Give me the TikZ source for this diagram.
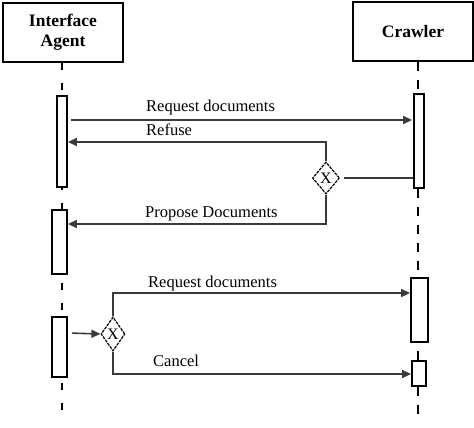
\documentclass[tikz,border=0pt]{standalone}
\usepackage{fontspec}
\setmainfont{Liberation Serif}
\usetikzlibrary{shapes.geometric,arrows.meta}
\definecolor{lnc}{HTML}{3A3A3A}
\tikzset{
  head/.style={draw=black, line width=2pt, rectangle, minimum width=120pt, minimum height=59pt, align=center, font=\fontsize{17.5}{22}\selectfont\bfseries, inner sep=0pt},
  actbar/.style={draw=black, fill=white, line width=1.8pt, rectangle, inner sep=0pt},
  gate/.style={draw=black, fill=white, diamond, dashed, dash pattern=on 3pt off 1pt, line width=1.2pt, inner sep=0pt, font=\fontsize{16}{16}\selectfont},
  msg/.style={draw=lnc, line width=1.6pt, -{Triangle[length=9pt,width=8pt]}},
  link/.style={draw=lnc, line width=1.6pt},
  lbl/.style={font=\fontsize{16.5}{19}\selectfont, inner sep=0pt, anchor=base west},
  life/.style={draw=black, line width=2pt},
}
\begin{document}
\begin{tikzpicture}[x=1pt,y=-1pt]
\useasboundingbox (0,0) rectangle (474,428);
% headers
\node[head] (ia) at (63,32.5) {Interface\\[-2pt]Agent};
\node[head] (cr) at (413,32) {Crawler};
% lifelines
\coordinate (iabot) at (62,420);
\coordinate (crbot) at (418,422);
\draw[life, dash pattern=on 7pt off 13pt] (ia.south -| iabot) -- (iabot);
\draw[life, dash pattern=on 9pt off 9pt] (cr.south -| crbot) -- (crbot);
% activation bars
\node[actbar, minimum width=10pt, minimum height=91pt] (ia1) at (62,141.5) {};
\node[actbar, minimum width=15pt, minimum height=64pt] (ia2) at (59.5,242) {};
\node[actbar, minimum width=15pt, minimum height=60pt] (ia3) at (59.5,347) {};
\node[actbar, minimum width=10pt, minimum height=94pt] (cr1) at (419,141) {};
\node[actbar, minimum width=17pt, minimum height=64pt] (cr2) at (419.5,310) {};
\node[actbar, minimum width=14pt, minimum height=25pt] (cr3) at (419,373.5) {};
% gateways
\node[gate, minimum width=27pt, minimum height=32pt] (d1) at (326,178) {X};
\node[gate, minimum width=24pt, minimum height=34pt] (d2) at (113,334) {X};
% message heights
\coordinate (m1) at (0,120);
\coordinate (m2) at (0,142);
\coordinate (m3) at (0,224);
\coordinate (m4) at (0,293);
\coordinate (m5) at (0,374);
\coordinate (m6) at (0,333);
% connectors
\draw[msg, shorten <=3pt, shorten >=1pt] (ia1.east |- m1) -- (cr1.west |- m1);
\draw[msg] (d1.north) |- (ia1.east |- m2);
\draw[link, shorten >=4pt] (cr1.west |- d1) -- (d1.east);
\draw[msg] (d1.south) |- (ia2.east |- m3);
\draw[msg, shorten <=4pt] (ia3.east |- m6) -- (d2.west);
\draw[msg] (d2.north) |- (cr2.west |- m4);
\draw[msg] (d2.south) |- (cr3.west |- m5);
% labels
\node[lbl] (t1) at (146,111) {Request documents};
\node[lbl] (t2) at (146,135) {Refuse};
\node[lbl] (t3) at (145,217) {Propose Documents};
\node[lbl] (t4) at (148,287) {Request documents};
\node[lbl] (t5) at (153,366) {Cancel};
\end{tikzpicture}
\end{document}
